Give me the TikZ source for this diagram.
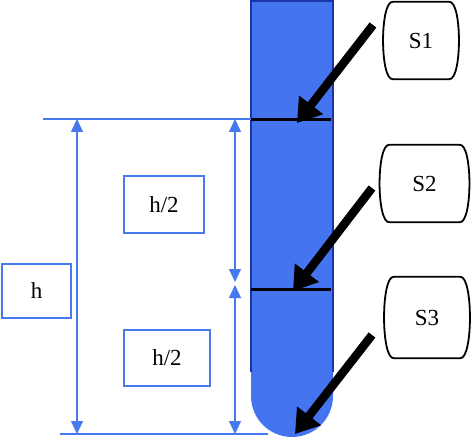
\documentclass[tikz,border=0pt]{standalone}
\usepackage{fontspec}
\setmainfont{Liberation Serif}
\usetikzlibrary{arrows.meta,calc}
\definecolor{tubefill}{RGB}{68,116,240}
\definecolor{tubeedge}{RGB}{28,52,170}
\definecolor{dimblue}{RGB}{70,120,240}
\tikzset{
  dimbox/.style={draw=dimblue,line width=2pt,minimum width=#1,inner sep=0pt,font=\fontsize{23}{26}\selectfont},
  sbox/.style={inner sep=0pt,font=\fontsize{23}{26}\selectfont},
  dimline/.style={draw=dimblue,line width=1.2pt},
  dimarrow/.style={dimline,{Triangle[length=13pt,width=12pt]}-{Triangle[length=13pt,width=12pt]}},
  bigarrow/.style={line width=8.5pt,-{Triangle[length=23pt,width=29pt]}},
  level/.style={line width=3pt},
}
\newcommand\barrelpath[1]{%
  \draw[line width=1.8pt]
    ($(#1.north west)+(9,0)$) -- ($(#1.north east)+(-9,0)$)
    .. controls ($(#1.north east)+(4,-1)$) and ($(#1.south east)+(4,1)$) .. ($(#1.south east)+(-9,0)$)
    -- ($(#1.south west)+(9,0)$)
    .. controls ($(#1.south west)+(-4,1)$) and ($(#1.north west)+(-4,-1)$) .. cycle;}
\begin{document}
\begin{tikzpicture}[x=1pt,y=-1pt]
\useasboundingbox (0,0) rectangle (474,441);
% tube
\fill[tubefill] (251,1) -- (251,396) arc[start angle=180,end angle=0,radius=41] -- (333,1) -- cycle;
\draw[tubeedge,line width=2pt] (251,372) -- (251,1) -- (333,1) -- (333,372);
% levels
\coordinate (l1a) at (251,120); \coordinate (l1b) at (331,120);
\coordinate (l2a) at (251,289); \coordinate (l2b) at (331,289);
\draw[level] (l1a) -- (l1b);
\draw[level] (l2a) -- (l2b);
% dimension reference lines
\coordinate (topL) at (43,119); \coordinate (topR) at (251,119);
\coordinate (botL) at (60,434); \coordinate (botR) at (268,434);
\draw[dimline] (topL) -- (topR);
\draw[dimline] (botL) -- (botR);
\coordinate (ha) at (77,119); \coordinate (hb) at (77,434);
\draw[dimarrow] (ha) -- (hb);
\coordinate (ua) at (235,119); \coordinate (ub) at (235,282);
\coordinate (la) at (235,285); \coordinate (lb) at (235,434);
\draw[dimarrow] (ua) -- (ub);
\draw[dimarrow] (la) -- (lb);
% dimension labels
\node[dimbox=69pt,minimum height=54pt] (hbox) at (36.5,291) {h};
\node[dimbox=80pt,minimum height=57pt] (h2a) at (164,204.5) {h/2};
\node[dimbox=86pt,minimum height=56pt] (h2b) at (167,358) {h/2};
% S boxes
\node[sbox,minimum width=74pt,minimum height=77pt] (s1) at (421,40.5) {S1};
\node[sbox,minimum width=88pt,minimum height=77pt] (s2) at (424.5,183.5) {S2};
\node[sbox,minimum width=84pt,minimum height=81pt] (s3) at (427,317.5) {S3};
\barrelpath{s1}
\barrelpath{s2}
\barrelpath{s3}
% pointing arrows
\coordinate (a1s) at (373,25); \coordinate (a1e) at (297,123);
\coordinate (a2s) at (372,188); \coordinate (a2e) at (293,291);
\coordinate (a3s) at (372,335); \coordinate (a3e) at (295,434);
\draw[bigarrow] (a1s) -- (a1e);
\draw[bigarrow] (a2s) -- (a2e);
\draw[bigarrow] (a3s) -- (a3e);
\end{tikzpicture}
\end{document}
